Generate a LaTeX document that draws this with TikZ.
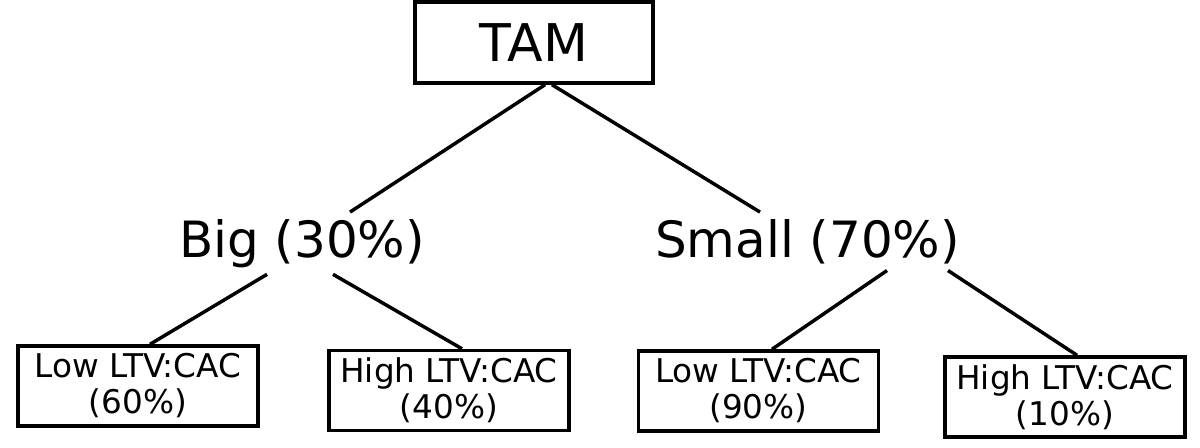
\documentclass[tikz,border=0pt]{standalone}
\usepackage{fontspec}
\setmainfont{DejaVu Sans}
\usetikzlibrary{calc}

\tikzset{
  leafbox/.style = {draw, line width=2.6pt, minimum width=180pt, minimum height=60pt,
                    inner sep=0pt, align=center, font=\fontsize{24.5}{27}\selectfont},
  branch/.style = {inner sep=0pt, inner ysep=5pt, anchor=base, font=\fontsize{37.5}{40}\selectfont},
  link/.style = {line width=2.6pt}
}

\begin{document}
\begin{tikzpicture}[x=0.75pt, y=-0.75pt]

\useasboundingbox (0, 0) rectangle (1200, 447);

% root
\node[draw, line width=2.6pt, minimum width=178.5pt, minimum height=60.75pt, inner sep=0pt,
      font=\fontsize{39}{42}\selectfont] (tam) at (534, 42.5) {TAM};

% market size
\node[branch] (big) at (302, 257) {Big (30\%)};
\node[branch] (small) at (807.5, 257) {Small (70\%)};

% ratio split
\node[leafbox] (bigLow) at (138, 386) {Low LTV:CAC\\(60\%)};
\node[leafbox] (bigHigh) at (449, 390.5) {High LTV:CAC\\(40\%)};
\node[leafbox] (smallLow) at (758.5, 391) {Low LTV:CAC\\(90\%)};
\node[leafbox] (smallHigh) at (1065, 397) {High LTV:CAC\\(10\%)};

\draw[link] ($(tam.south)+(11, 0)$) -- ($(big.north)+(48, 0)$);
\draw[link] ($(tam.south)+(18, 0)$) -- ($(small.north)+(-47.5, 0)$);

\draw[link] ($(big.south)+(-35, 0)$) -- ($(bigLow.north)+(12, 0)$);
\draw[link] ($(big.south)+(31, 0)$) -- ($(bigHigh.north)+(13, 0)$);
\draw[link] ($(small.south)+(79.5, 0)$) -- ($(smallLow.north)+(13.5, 0)$);
\draw[link] ($(small.south)+(140.5, 0)$) -- ($(smallHigh.north)+(12, 0)$);

\end{tikzpicture}
\end{document}
